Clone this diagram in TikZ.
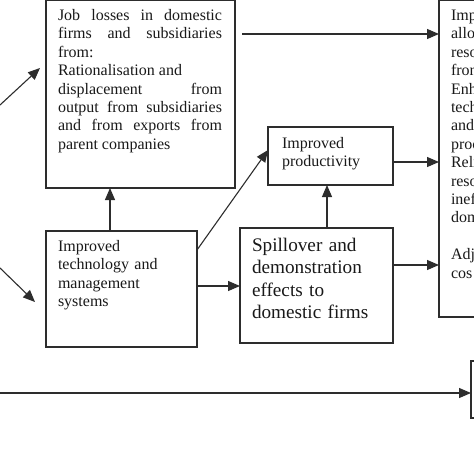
\documentclass[tikz,border=0pt]{standalone}
\usepackage{fontspec}
\setmainfont{Liberation Serif}
\usetikzlibrary{arrows.meta}
\definecolor{ln}{RGB}{45,45,45}
\definecolor{tx}{RGB}{25,25,25}
\tikzset{
  box/.style={draw=ln, line width=1.1pt, rectangle, inner sep=0pt, outer sep=0pt},
  arr/.style={draw=ln, line width=1.1pt, -{Triangle[length=12pt,width=10pt]}},
  txt/.style={inner sep=0pt, outer sep=0pt, text=tx, font=\fontsize{16}{18.4}\selectfont, anchor=base west},
  bigtxt/.style={inner sep=0pt, outer sep=0pt, text=tx, font=\fontsize{19.2}{22.3}\selectfont, anchor=base west}
}
\begin{document}
\begin{tikzpicture}[x=1pt,y=-1pt]
\useasboundingbox (0,0) rectangle (474,474);
\clip (0,0) rectangle (474,474);
\fill[white] (0,0) rectangle (474,474);
% boxes
\node[box, minimum width=189pt, minimum height=187.5pt] (job) at (140.5,94.25) {};
\node[box, minimum width=151pt, minimum height=116pt] (tech) at (121.5,289) {};
\node[box, minimum width=153pt, minimum height=115pt] (spill) at (316.5,285.5) {};
\node[box, minimum width=125pt, minimum height=58pt] (prod) at (330.5,156) {};
\node[box, minimum width=51pt, minimum height=316.5pt] (right) at (464.5,158.75) {};
\node[box, minimum width=19pt, minimum height=57pt] (small) at (480.5,389.5) {};
% texts
\node[txt, text width=164pt, align=justify] (jobtxt) at (58,20.5)
  {\tolerance=10000\hbadness=10000 Job losses in domestic\linebreak firms and subsidiaries\linebreak from:\\Rationalisation and\\displacement from\linebreak output from subsidiaries\linebreak and from exports from\linebreak parent companies};
\node[txt, text width=130pt, align=left] (techtxt) at (58,251.5)
  {Improved\\technology and\\management\\systems};
\node[txt, text width=100pt, align=left] (prodtxt) at (282,148)
  {Improved\\productivity};
\node[bigtxt, text width=140pt, align=left] (spilltxt) at (252,251.5)
  {Spillover and\\demonstration\\effects to\\domestic firms};
\node[txt, text width=60pt, align=left] (righttxt) at (451,20.5)
  {Imp\\allo\\reso\\from\\Enh\\tech\\and\\proc\\Reli\\reso\\inef\\dom\\[18.4pt]Adj\\cos};
% free ends
\coordinate (l1s) at (0,105);
\coordinate (l1e) at (40,68);
\coordinate (l2s) at (0,268);
\coordinate (l2e) at (35,302);
\coordinate (a1) at (242,34);
\coordinate (b0) at (0,393);
% connectors
\draw[arr] (l1s) -- (l1e);
\draw[arr] (l2s) -- (l2e);
\draw[arr] ([xshift=-11.5pt]tech.north) -- ([xshift=-11.5pt]tech.north |- job.south);
\draw[arr] (a1) -- (a1 -| right.west);
\draw[arr] ([yshift=-6pt]prod.east) -- ([yshift=-6pt]prod.east -| right.west);
\draw[arr] ([yshift=20.5pt]spill.east) -- ([yshift=20.5pt]spill.east -| right.west);
\draw[arr] ([yshift=3pt]tech.east) -- ([yshift=3pt]tech.east -| spill.west);
\draw[arr] ([yshift=-19pt]tech.north east) -- ([yshift=6pt]prod.west);
\draw[arr] ([xshift=10.5pt]spill.north) -- ([xshift=10.5pt]spill.north |- prod.south);
\draw[arr] (b0) -- (b0 -| small.west);
\end{tikzpicture}
\end{document}
